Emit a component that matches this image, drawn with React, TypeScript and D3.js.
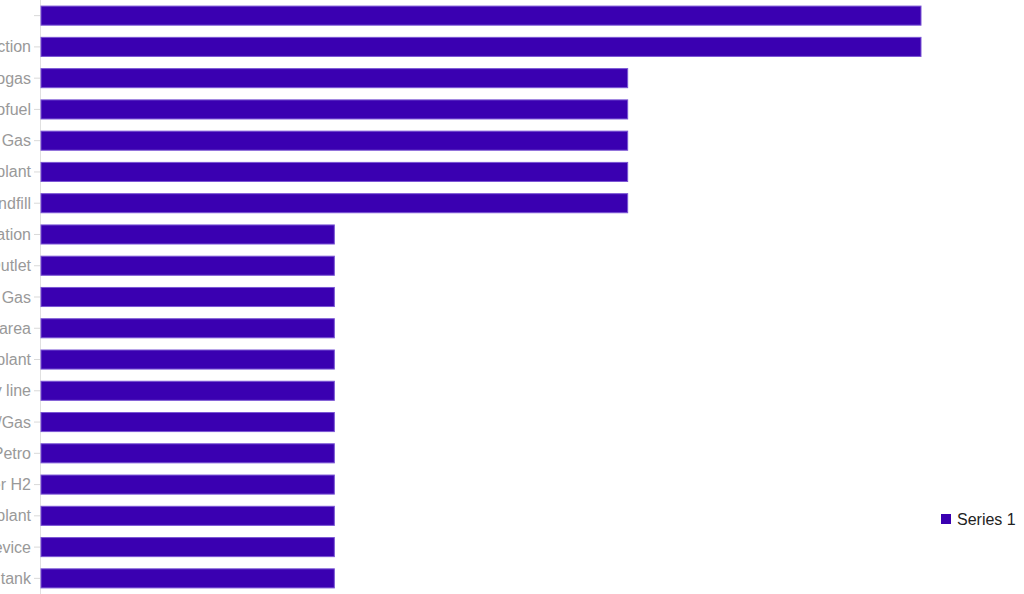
import { useMemo } from "react";
import * as d3 from "d3";

// categories top to bottom (left side of the chart is cut off in the picture)
const categories = [
  "",
  "Hydrogen production",
  "Biogas",
  "Biofuel",
  "Natural Gas",
  "Power plant",
  "Landfill",
  "Fuel station",
  "Outlet",
  "Liquefied Gas",
  "Storage area",
  "Treatment plant",
  "Supply line",
  "CNG/LNG/Gas",
  "Petro",
  "Electrolyzer H2",
  "Processing plant",
  "Device",
  "Storage tank",
];

const series1 = [3, 3, 2, 2, 2, 2, 2, 1, 1, 1, 1, 1, 1, 1, 1, 1, 1, 1, 1];

const seriesName = "Series 1";

const width = 1024;
const height = 594;
const barColor = "#3a00b1";

export default function App() {
  const margin = { top: 0, right: 103, bottom: 0, left: 41 };

  const data = categories.map((c, i) => ({ name: c, key: "c" + i, value: series1[i] }));

  const xScale = useMemo(
    () => d3.scaleLinear().domain([0, 3]).range([margin.left, width - margin.right]),
    []
  );

  const yScale = useMemo(
    () =>
      d3
        .scaleBand()
        .domain(data.map((d) => d.key))
        .range([margin.top, height - margin.bottom])
        .paddingInner(0.39)
        .paddingOuter(0.195),
    []
  );

  const bars = data.map((d) => {
    const y = yScale(d.key) ?? 0;
    return (
      <rect
        key={d.key}
        x={xScale(0)}
        y={y}
        width={xScale(d.value) - xScale(0)}
        height={yScale.bandwidth()}
        fill={barColor}
        stroke="#7a55d4"
        strokeWidth={1}
      />
    );
  });

  const yTicks = data.map((d) => {
    const yc = (yScale(d.key) ?? 0) + yScale.bandwidth() / 2;
    return (
      <g key={d.key}>
        <line x1={margin.left - 7} x2={margin.left - 1} y1={yc} y2={yc} stroke="#d9d9d9" />
        <text
          x={margin.left - 10}
          y={yc}
          textAnchor="end"
          dominantBaseline="central"
          fontSize={16}
          fill="#999"
        >
          {d.name}
        </text>
      </g>
    );
  });

  return (
    <svg
      width={width}
      height={height}
      style={{ position: "absolute", left: 0, top: 0, fontFamily: "'Liberation Sans', Arial, sans-serif" }}
    >
      <rect width={width} height={height} fill="#fff" />
      <line
        x1={margin.left - 0.5}
        x2={margin.left - 0.5}
        y1={0}
        y2={height}
        stroke="#e0e0e0"
      />
      {yTicks}
      {bars}
      <g transform="translate(941,514)">
        <rect width={10} height={10} fill={barColor} />
        <text x={16} y={5} dominantBaseline="central" fontSize={16} fill="#222">
          {seriesName}
        </text>
      </g>
    </svg>
  );
}
